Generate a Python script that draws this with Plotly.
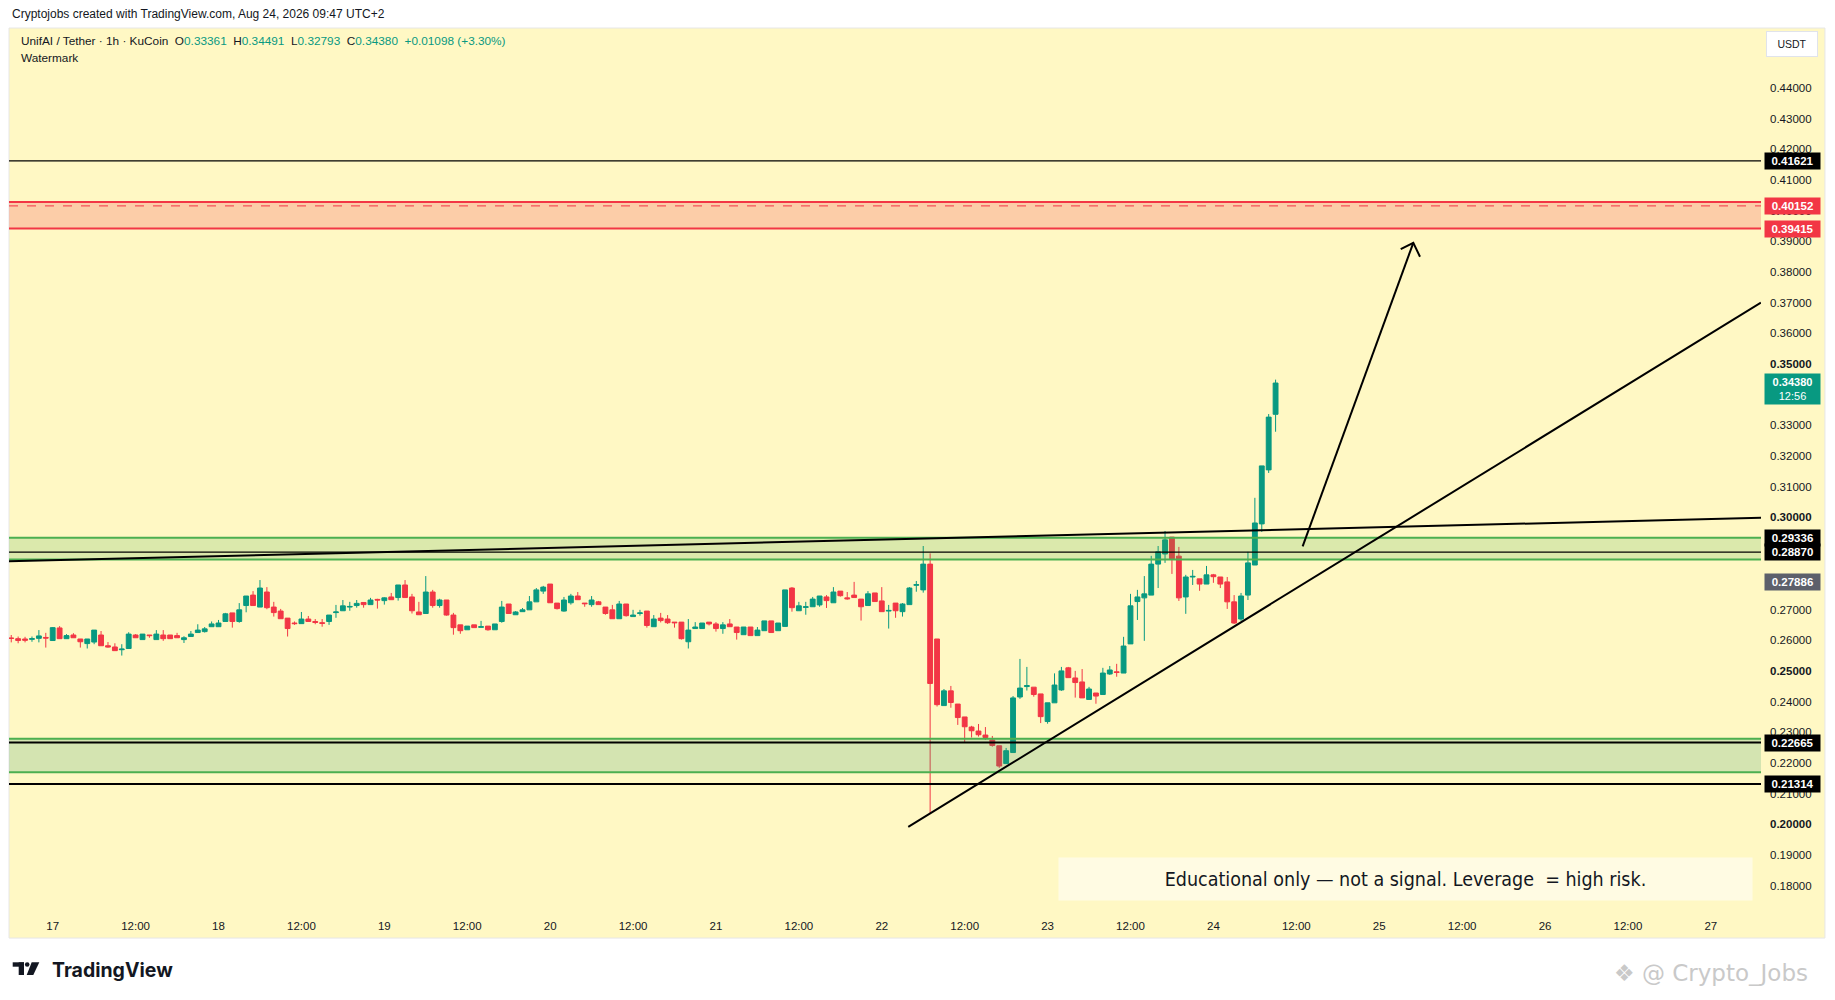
import pandas as pd
import plotly.graph_objects as go

# UnifAI / USDT, KuCoin, 1h candles. first bar Aug 16 18:00, last bar Aug 24 09:00
first_bar = "2026-08-16 18:00"

opens = [
    0.2607, 0.2605, 0.2604, 0.2603, 0.2606, 0.2609, 0.2599, 0.2640, 0.2605, 0.2617,
    0.2604, 0.2589, 0.2594, 0.2617, 0.2582, 0.2578, 0.2569, 0.2573, 0.2617, 0.2602,
    0.2617, 0.2602, 0.2617, 0.2617, 0.2615, 0.2602, 0.2612, 0.2625, 0.2628, 0.2644,
    0.2644, 0.2661, 0.2689, 0.2661, 0.2713, 0.2747, 0.2708, 0.2757, 0.2708, 0.2695,
    0.2672, 0.2656, 0.2654, 0.2669, 0.2661, 0.2657, 0.2661, 0.2690, 0.2696, 0.2708,
    0.2713, 0.2723, 0.2716, 0.2733, 0.2729, 0.2741, 0.2739, 0.2780, 0.2741, 0.2692,
    0.2687, 0.2757, 0.2713, 0.2731, 0.2682, 0.2650, 0.2634, 0.2650, 0.2642, 0.2646,
    0.2634, 0.2661, 0.2718, 0.2683, 0.2693, 0.2699, 0.2725, 0.2760, 0.2783, 0.2721,
    0.2695, 0.2722, 0.2744, 0.2721, 0.2716, 0.2725, 0.2708, 0.2699, 0.2670, 0.2718,
    0.2677, 0.2687, 0.2695, 0.2644, 0.2672, 0.2669, 0.2659, 0.2659, 0.2595, 0.2638,
    0.2638, 0.2659, 0.2653, 0.2638, 0.2653, 0.2643, 0.2618, 0.2643, 0.2615, 0.2631,
    0.2663, 0.2631, 0.2645, 0.2770, 0.2696, 0.2707, 0.2709, 0.2715, 0.2741, 0.2722,
    0.2760, 0.2738, 0.2747, 0.2734, 0.2713, 0.2754, 0.2728, 0.2695, 0.2721, 0.2693,
    0.2716, 0.2779, 0.2764, 0.2848, 0.2604, 0.2387, 0.2435, 0.2392, 0.2350, 0.2317,
    0.2304, 0.2291, 0.2275, 0.2256, 0.2198, 0.2234, 0.2415, 0.2449, 0.2447, 0.2425,
    0.2335, 0.2396, 0.2438, 0.2510, 0.2477, 0.2464, 0.2407, 0.2428, 0.2423, 0.2490,
    0.2497, 0.2493, 0.2588, 0.2726, 0.2738, 0.2747, 0.2848, 0.2881, 0.2936, 0.2874,
    0.2741, 0.2806, 0.2800, 0.2783, 0.2813, 0.2806, 0.2790, 0.2725, 0.2669, 0.2747,
    0.2845, 0.2979, 0.3155, 0.33361,
]
highs = [
    0.2617, 0.2612, 0.2611, 0.2612, 0.2633, 0.2624, 0.2643, 0.2646, 0.2620, 0.2623,
    0.2604, 0.2604, 0.2633, 0.2630, 0.2594, 0.2590, 0.2587, 0.2626, 0.2620, 0.2620,
    0.2617, 0.2633, 0.2633, 0.2617, 0.2624, 0.2613, 0.2630, 0.2652, 0.2643, 0.2661,
    0.2666, 0.2689, 0.2689, 0.2721, 0.2744, 0.2760, 0.2796, 0.2773, 0.2725, 0.2702,
    0.2672, 0.2661, 0.2692, 0.2679, 0.2669, 0.2669, 0.2682, 0.2715, 0.2731, 0.2725,
    0.2731, 0.2723, 0.2738, 0.2735, 0.2740, 0.2754, 0.2780, 0.2796, 0.2751, 0.2725,
    0.2809, 0.2764, 0.2735, 0.2731, 0.2689, 0.2650, 0.2646, 0.2650, 0.2663, 0.2646,
    0.2653, 0.2728, 0.2718, 0.2695, 0.2705, 0.2744, 0.2770, 0.2777, 0.2783, 0.2721,
    0.2741, 0.2751, 0.2757, 0.2721, 0.2744, 0.2728, 0.2708, 0.2715, 0.2728, 0.2718,
    0.2699, 0.2699, 0.2695, 0.2682, 0.2689, 0.2682, 0.2659, 0.2659, 0.2669, 0.2659,
    0.2656, 0.2659, 0.2659, 0.2659, 0.2669, 0.2643, 0.2643, 0.2643, 0.2643, 0.2663,
    0.2663, 0.2656, 0.2764, 0.2773, 0.2725, 0.2725, 0.2741, 0.2744, 0.2747, 0.2773,
    0.2760, 0.2757, 0.2790, 0.2734, 0.2760, 0.2754, 0.2773, 0.2715, 0.2721, 0.2721,
    0.2773, 0.2793, 0.2907, 0.2883, 0.2604, 0.2441, 0.2451, 0.2392, 0.2350, 0.2321,
    0.2327, 0.2317, 0.2288, 0.2256, 0.2249, 0.2418, 0.2539, 0.2513, 0.2447, 0.2425,
    0.2396, 0.2492, 0.2513, 0.2513, 0.2500, 0.2506, 0.2448, 0.2428, 0.2510, 0.2516,
    0.2523, 0.2611, 0.2751, 0.2764, 0.2809, 0.2875, 0.2907, 0.2956, 0.2936, 0.2904,
    0.2813, 0.2829, 0.2800, 0.2842, 0.2816, 0.2806, 0.2806, 0.2747, 0.2754, 0.2888,
    0.3064, 0.3168, 0.3337, 0.34491,
]
lows = [
    0.2593, 0.2590, 0.2593, 0.2595, 0.2593, 0.2576, 0.2598, 0.2604, 0.2604, 0.2608,
    0.2576, 0.2573, 0.2587, 0.2582, 0.2576, 0.2566, 0.2550, 0.2573, 0.2608, 0.2602,
    0.2608, 0.2602, 0.2598, 0.2605, 0.2608, 0.2591, 0.2612, 0.2625, 0.2625, 0.2644,
    0.2644, 0.2661, 0.2641, 0.2657, 0.2691, 0.2713, 0.2708, 0.2701, 0.2677, 0.2670,
    0.2612, 0.2650, 0.2654, 0.2661, 0.2652, 0.2644, 0.2650, 0.2673, 0.2696, 0.2696,
    0.2706, 0.2706, 0.2716, 0.2703, 0.2716, 0.2732, 0.2729, 0.2739, 0.2687, 0.2683,
    0.2687, 0.2706, 0.2706, 0.2680, 0.2618, 0.2621, 0.2634, 0.2641, 0.2641, 0.2631,
    0.2634, 0.2657, 0.2687, 0.2683, 0.2693, 0.2699, 0.2725, 0.2751, 0.2722, 0.2700,
    0.2693, 0.2716, 0.2732, 0.2709, 0.2709, 0.2716, 0.2683, 0.2670, 0.2670, 0.2677,
    0.2677, 0.2680, 0.2641, 0.2644, 0.2658, 0.2653, 0.2641, 0.2602, 0.2573, 0.2638,
    0.2638, 0.2648, 0.2628, 0.2621, 0.2644, 0.2602, 0.2618, 0.2615, 0.2615, 0.2631,
    0.2625, 0.2631, 0.2643, 0.2693, 0.2696, 0.2683, 0.2709, 0.2709, 0.2705, 0.2722,
    0.2742, 0.2732, 0.2739, 0.2664, 0.2713, 0.2726, 0.2693, 0.2638, 0.2673, 0.2677,
    0.2716, 0.2758, 0.2755, 0.2036, 0.2384, 0.2387, 0.2380, 0.2324, 0.2266, 0.2283,
    0.2286, 0.2275, 0.2253, 0.2184, 0.2198, 0.2234, 0.2409, 0.2436, 0.2416, 0.2330,
    0.2328, 0.2396, 0.2435, 0.2478, 0.2413, 0.2412, 0.2407, 0.2393, 0.2423, 0.2487,
    0.2481, 0.2493, 0.2588, 0.2666, 0.2598, 0.2747, 0.2770, 0.2852, 0.2816, 0.2728,
    0.2686, 0.2780, 0.2761, 0.2783, 0.2787, 0.2770, 0.2702, 0.2653, 0.2663, 0.2731,
    0.2845, 0.2953, 0.3145, 0.32793,
]
closes = [
    0.2606, 0.2599, 0.2600, 0.2605, 0.2614, 0.2607, 0.2641, 0.2605, 0.2615, 0.2608,
    0.2595, 0.2604, 0.2633, 0.2582, 0.2578, 0.2566, 0.2571, 0.2620, 0.2608, 0.2620,
    0.2615, 0.2620, 0.2605, 0.2605, 0.2608, 0.2608, 0.2620, 0.2633, 0.2637, 0.2653,
    0.2656, 0.2686, 0.2661, 0.2699, 0.2744, 0.2713, 0.2770, 0.2706, 0.2690, 0.2670,
    0.2638, 0.2654, 0.2669, 0.2661, 0.2658, 0.2655, 0.2682, 0.2692, 0.2712, 0.2710,
    0.2720, 0.2716, 0.2731, 0.2731, 0.2738, 0.2732, 0.2780, 0.2739, 0.2696, 0.2683,
    0.2757, 0.2713, 0.2731, 0.2682, 0.2641, 0.2631, 0.2646, 0.2641, 0.2644, 0.2634,
    0.2653, 0.2708, 0.2687, 0.2692, 0.2699, 0.2725, 0.2764, 0.2773, 0.2722, 0.2703,
    0.2731, 0.2744, 0.2732, 0.2719, 0.2731, 0.2716, 0.2687, 0.2670, 0.2718, 0.2680,
    0.2682, 0.2689, 0.2648, 0.2669, 0.2664, 0.2657, 0.2657, 0.2605, 0.2633, 0.2643,
    0.2656, 0.2653, 0.2638, 0.2650, 0.2644, 0.2625, 0.2643, 0.2615, 0.2633, 0.2663,
    0.2625, 0.2656, 0.2764, 0.2706, 0.2712, 0.2709, 0.2734, 0.2744, 0.2729, 0.2757,
    0.2745, 0.2735, 0.2739, 0.2709, 0.2751, 0.2726, 0.2693, 0.2697, 0.2696, 0.2718,
    0.2770, 0.2781, 0.2848, 0.2459, 0.2390, 0.2435, 0.2397, 0.2348, 0.2318, 0.2305,
    0.2292, 0.2283, 0.2257, 0.2190, 0.2240, 0.2412, 0.2444, 0.2452, 0.2423, 0.2351,
    0.2396, 0.2454, 0.2500, 0.2478, 0.2462, 0.2412, 0.2441, 0.2418, 0.2493, 0.2503,
    0.2495, 0.2581, 0.2712, 0.2741, 0.2751, 0.2848, 0.2888, 0.2927, 0.2865, 0.2738,
    0.2806, 0.2808, 0.2783, 0.2813, 0.2807, 0.2783, 0.2725, 0.2656, 0.2744, 0.2852,
    0.2982, 0.3168, 0.3327, 0.34380,
]

bar_times = pd.date_range(first_bar, periods=len(closes), freq="h")

time_ticks = pd.date_range("2026-08-17", "2026-08-27", freq="12h")
time_labels = [
    "17", "12:00", "18", "12:00", "19", "12:00", "20", "12:00", "21", "12:00",
    "22", "12:00", "23", "12:00", "24", "12:00", "25", "12:00", "26", "12:00", "27",
]
# 0.28 / 0.29 / 0.34 sit fully behind the price tags, as in the screenshot
price_ticks = [
    0.18, 0.19, 0.20, 0.21, 0.22, 0.23, 0.24, 0.25, 0.26, 0.27, 0.30, 0.31,
    0.32, 0.33, 0.35, 0.36, 0.37, 0.38, 0.39, 0.40, 0.41, 0.42, 0.43, 0.44,
]
price_labels = [
    "0.18000", "0.19000", "<b>0.20000</b>", "0.21000", "0.22000", "0.23000", "0.24000",
    "<b>0.25000</b>", "0.26000", "0.27000", "<b>0.30000</b>", "0.31000", "0.32000",
    "0.33000", "<b>0.35000</b>", "0.36000", "0.37000", "0.38000", "0.39000",
    "<b>0.40000</b>", "0.41000", "0.42000", "0.43000", "0.44000",
]

# drawn levels
top_line = 0.41621
sell_zone = (0.39415, 0.4028)
sell_mid = 0.40152
break_zone = (0.2863, 0.29336)
break_mid = 0.28870
support_zone = (0.2170, 0.2279)
support_mid = 0.22665
support_low = 0.21314

# axis labels on the right: price, text, background
axis_tags = [
    (0.41621, "0.41621", "#000000"),
    (0.40152, "0.40152", "#f23645"),
    (0.39415, "0.39415", "#f23645"),
    (0.29336, "0.29336", "#000000"),
    (0.28870, "0.28870", "#000000"),
    (0.27886, "0.27886", "#5d606b"),
    (0.22665, "0.22665", "#000000"),
    (0.21314, "0.21314", "#000000"),
]

GREEN = "#089981"
RED = "#f23645"
BG = "#fff8c4"
TEXT = "#131722"
FONT = "Liberation Sans, Arial, sans-serif"

fig = go.Figure()

fig.add_trace(
    go.Candlestick(
        x=bar_times,
        open=opens,
        high=highs,
        low=lows,
        close=closes,
        increasing=dict(line=dict(color=GREEN, width=1), fillcolor=GREEN),
        decreasing=dict(line=dict(color=RED, width=1), fillcolor=RED),
        whiskerwidth=0,
        showlegend=False,
        hoverinfo="skip",
    )
)


def hline(y, color, width, dash="solid"):
    return dict(
        type="line", xref="paper", x0=0, x1=1, yref="y", y0=y, y1=y,
        line=dict(color=color, width=width, dash=dash), layer="above",
    )


def zone(lo, hi, fill):
    return dict(
        type="rect", xref="paper", x0=0, x1=1, yref="y", y0=lo, y1=hi,
        fillcolor=fill, line_width=0, layer="above",
    )


shapes = [
    # yellow canvas incl. time axis strip
    dict(type="rect", xref="paper", yref="paper", x0=0, x1=1.0365, y0=-0.0318, y1=1,
         fillcolor=BG, line=dict(color="#e6e6e6", width=1), layer="below"),
    hline(top_line, "#000000", 1.3),
    zone(*sell_zone, "rgba(242,54,69,0.22)"),
    hline(sell_zone[1], RED, 2),
    hline(sell_mid, RED, 1, "dash"),
    hline(sell_zone[0], RED, 2),
    zone(*break_zone, "rgba(76,175,80,0.2)"),
    hline(break_zone[1], "#4caf50", 2),
    hline(break_mid, "#000000", 1.2),
    hline(break_zone[0], "#4caf50", 2),
    zone(*support_zone, "rgba(60,160,110,0.22)"),
    hline(support_zone[1], "#4caf50", 2),
    hline(support_mid, "#000000", 2),
    hline(support_zone[0], "#4caf50", 2),
    hline(support_low, "#000000", 2),
    # trendlines
    dict(type="line", xref="paper", x0=0, x1=1, yref="y", y0=0.2857, y1=0.2999,
         line=dict(color="#000000", width=2)),
    dict(type="line", xref="x", yref="y", x0="2026-08-22 03:50", y0=0.1992,
         x1="2026-08-27 07:15", y1=0.3700, line=dict(color="#000000", width=2)),
    # projection arrow
    dict(type="line", xref="x", yref="y", x0="2026-08-24 12:55", y0=0.2906,
         x1="2026-08-25 04:56", y1=0.3895, line=dict(color="#000000", width=2)),
    dict(type="path", xref="x", yref="y", xsizemode="pixel", ysizemode="pixel",
         xanchor="2026-08-25 04:56", yanchor=0.3895,
         path="M -12.6,-6.3 L 0,0 L 6.7,-14", line=dict(color="#000000", width=2)),
    # TradingView logo mark
    dict(type="rect", xref="paper", yref="paper", xsizemode="pixel", ysizemode="pixel",
         xanchor=0, yanchor=0, x0=3.7, x1=15, y0=-52.3, y1=-56.7,
         fillcolor="#131722", line_width=0),
    dict(type="rect", xref="paper", yref="paper", xsizemode="pixel", ysizemode="pixel",
         xanchor=0, yanchor=0, x0=9.7, x1=15, y0=-52.3, y1=-65,
         fillcolor="#131722", line_width=0),
    dict(type="circle", xref="paper", yref="paper", xsizemode="pixel", ysizemode="pixel",
         xanchor=0, yanchor=0, x0=15.9, x1=20.5, y0=-52.2, y1=-56.8,
         fillcolor="#131722", line_width=0),
    dict(type="path", xref="paper", yref="paper", xsizemode="pixel", ysizemode="pixel",
         xanchor=0, yanchor=0, path="M 22.7,-52.3 L 30.3,-52.3 L 24.3,-65 L 17.7,-65 Z",
         fillcolor="#131722", line_width=0),
]

annotations = [
    dict(xref="paper", yref="paper", x=0, y=1.0159, xshift=1, xanchor="left", yanchor="middle",
         text="Cryptojobs created with TradingView.com, Aug 24, 2026 09:47 UTC+2",
         showarrow=False, font=dict(family=FONT, size=12, color=TEXT)),
    dict(xref="paper", yref="paper", x=0.0055, y=0.9853, xanchor="left", yanchor="middle",
         text=(f"UnifAI / Tether · 1h · KuCoin  O<span style='color:{GREEN}'>0.33361</span>"
               f"  H<span style='color:{GREEN}'>0.34491</span>"
               f"  L<span style='color:{GREEN}'>0.32793</span>"
               f"  C<span style='color:{GREEN}'>0.34380</span>"
               f"  <span style='color:{GREEN}'>+0.01098 (+3.30%)</span>"),
         showarrow=False, font=dict(family=FONT, size=11.8, color=TEXT)),
    dict(xref="paper", yref="paper", x=0.0055, y=0.9660, xanchor="left", yanchor="middle",
         text="Watermark", showarrow=False, font=dict(family=FONT, size=11.8, color=TEXT)),
    dict(xref="paper", yref="paper", x=1.0177, y=0.9813, xanchor="center", yanchor="middle",
         text="USDT", showarrow=False, bgcolor="#ffffff", bordercolor="#e0e3eb",
         borderwidth=1, borderpad=6, width=38, font=dict(family=FONT, size=10.5, color=TEXT)),
    dict(xref="x", yref="y", x="2026-08-25 03:48", y=0.1822, xanchor="center",
         yanchor="middle", text="Educational only — not a signal. Leverage\u00a0 = high risk.",
         showarrow=False, bgcolor="#fffbe3", width=689, height=38, borderpad=2,
         font=dict(family="Liberation Sans Narrow, DejaVu Sans Condensed, sans-serif",
                   size=19.5, color=TEXT)),
    dict(xref="paper", yref="paper", x=0.0234, y=-0.0675, xanchor="left", yanchor="middle",
         text="<b>TradingView</b>", showarrow=False,
         font=dict(family="Inter, Liberation Sans, sans-serif", size=19.5, color=TEXT)),
    dict(xref="paper", yref="paper", x=1.028, y=-0.0714, xanchor="right", yanchor="middle",
         text="❖ @ Crypto_Jobs", showarrow=False,
         font=dict(family="DejaVu Sans, sans-serif", size=23, color="#c9c9c9")),
    dict(xref="paper", yref="y", x=1, y=closes[-1], xshift=3, yshift=-6, xanchor="left",
         yanchor="middle", text="<b>0.34380</b><br>12:56", showarrow=False,
         bgcolor=GREEN, width=51, borderpad=2, align="center",
         font=dict(family=FONT, size=11, color="#ffffff")),
]

for price, label, color in axis_tags:
    annotations.append(
        dict(xref="paper", yref="y", x=1, y=price, xshift=3, xanchor="left",
             yanchor="middle", text=f"<b>{label}</b>", showarrow=False,
             bgcolor=color, width=51, height=12, borderpad=2, align="center",
             font=dict(family=FONT, size=11.5, color="#ffffff"))
    )

# the page body adds an 8px offset, so the figure is drawn 8px smaller
fig.update_layout(
    width=1819,
    height=984,
    margin=dict(l=1, r=66, t=20, b=82),
    paper_bgcolor="#ffffff",
    plot_bgcolor=BG,
    showlegend=False,
    boxgap=0.3,
    boxgroupgap=0,
    shapes=shapes,
    annotations=annotations,
    xaxis=dict(
        type="date",
        range=["2026-08-16 17:40:30", "2026-08-27 07:15:30"],
        rangeslider=dict(visible=False),
        tickvals=time_ticks,
        ticktext=time_labels,
        showgrid=False,
        zeroline=False,
        showline=False,
        ticks="",
        ticklabelstandoff=7,
        tickfont=dict(family=FONT, size=11.5, color=TEXT),
    ),
    yaxis=dict(
        side="right",
        range=[0.17209, 0.45949],
        tickvals=price_ticks,
        ticktext=price_labels,
        showgrid=False,
        zeroline=False,
        showline=False,
        ticks="",
        ticklabelstandoff=8,
        tickfont=dict(family=FONT, size=11.5, color=TEXT),
    ),
)

fig.write_html("out.html")
